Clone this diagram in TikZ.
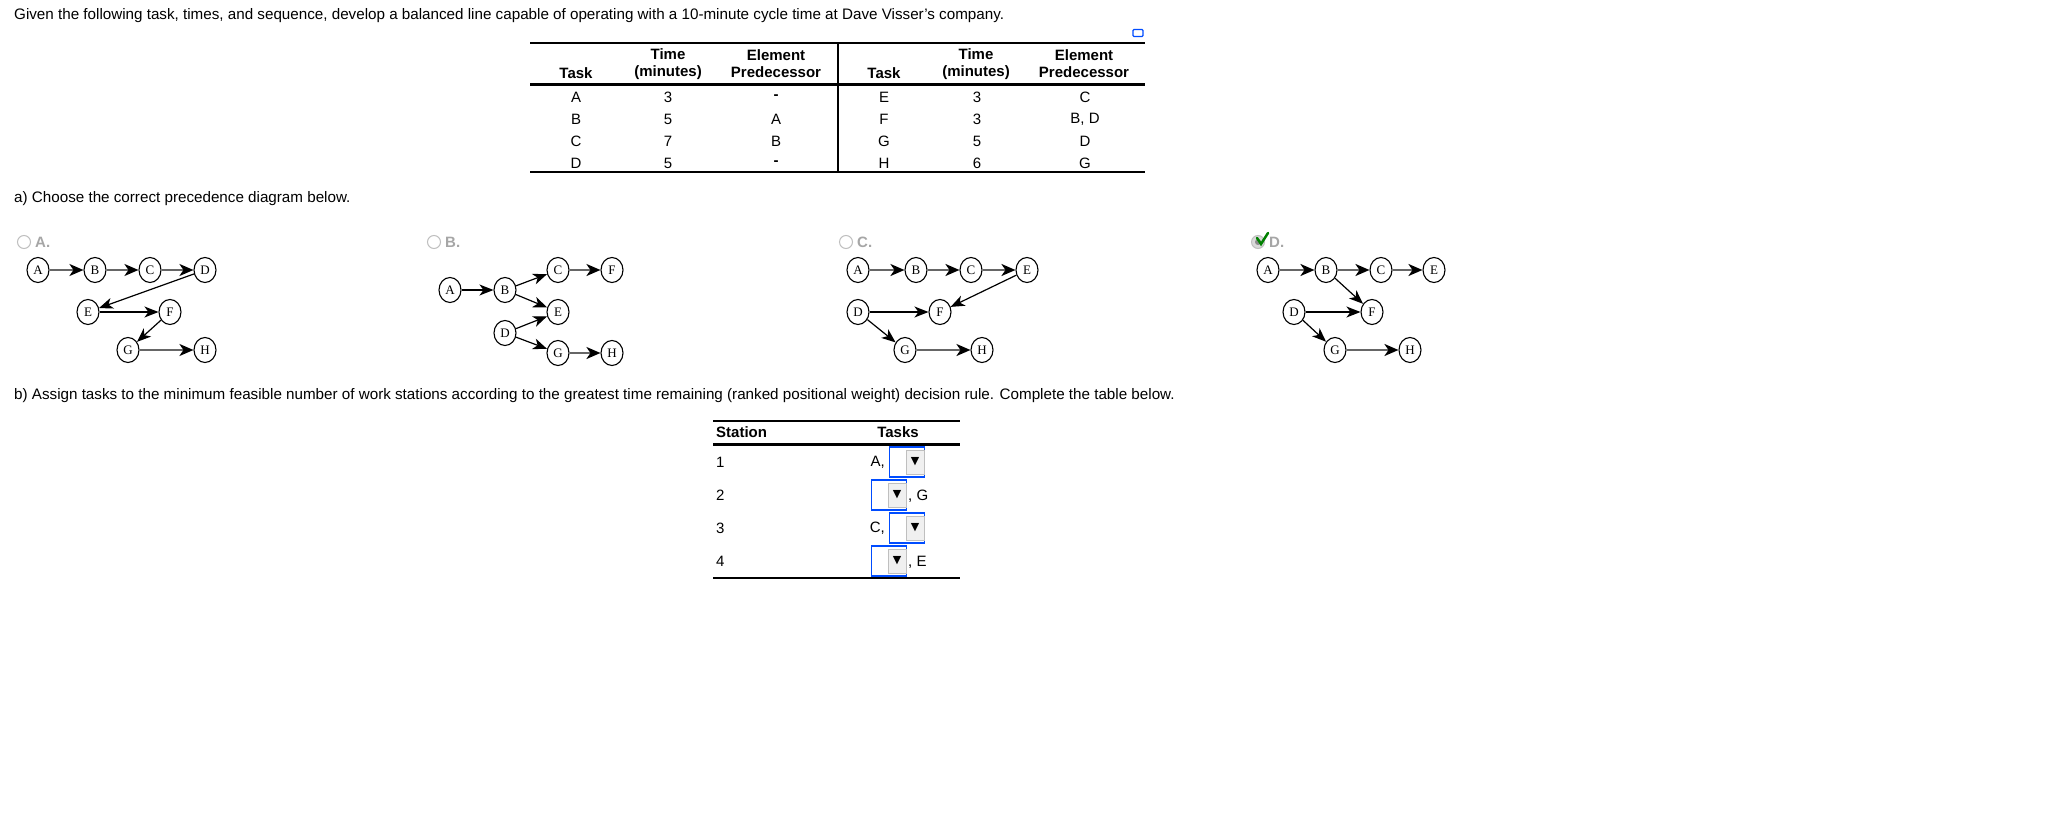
\documentclass[tikz,border=0pt]{standalone}
\usepackage{fontspec}
\setmainfont{Liberation Sans}
\newfontfamily\nodefont{Liberation Serif}
\newfontfamily\symfont{DejaVu Sans}
\usetikzlibrary{arrows.meta,shapes.geometric}
\begin{document}
\begin{tikzpicture}[x=1pt,y=-1pt,
  txt/.style={anchor=west,inner sep=0pt,font=\fontsize{15.2}{18}\selectfont},
  cell/.style={inner sep=0pt,font=\fontsize{15}{17}\selectfont},
  hcell/.style={inner sep=0pt,font=\bfseries\fontsize{15}{17}\selectfont,align=center},
  pn/.style={draw,ellipse,minimum width=22pt,minimum height=25pt,inner sep=0pt,line width=1.1pt,font=\nodefont\fontsize{13}{13}\selectfont},
  ar/.style={draw=black!60,line width=2pt,-{Stealth[length=14pt,width=12pt,inset=4pt,black]}},
  arthin/.style={draw=black,line width=1.2pt,-{Stealth[length=14pt,width=11pt,inset=4pt]}},
  opt/.style={draw=black!25,circle,minimum size=13pt,inner sep=0pt,line width=1pt},
  optl/.style={anchor=west,inner sep=0pt,text=black!35,font=\bfseries\fontsize{15}{17}\selectfont},
  dd/.style={draw=blue!70!cyan,line width=1.2pt,minimum width=35pt,minimum height=30pt,inner sep=0pt},
  ddb/.style={draw=black!25,fill=black!6,minimum width=18pt,minimum height=24pt,inner sep=0pt}
]
\useasboundingbox (0,0) rectangle (2046,840);
\fill[white] (0,0) rectangle (2046,840);
\node[txt] (title) at (14,16) {Given the following task, times, and sequence, develop a balanced line capable of operating with a 10-minute cycle time at Dave Visser's company.};
% icon
\node[draw=blue!70!cyan,line width=1.2pt,minimum width=10pt,minimum height=7pt,inner sep=0pt,rounded corners=1pt] (icon) at (1138,33) {};
% top table
\draw[line width=1.5pt] (530,43) -- (1145,43);
\draw[line width=3pt] (530,85) -- (1145,85);
\draw[line width=1.5pt] (530,172) -- (1145,172);
\draw[line width=1.2pt] (838,43) -- (838,172);
\foreach \o in {0,308}{
  \node[hcell] at (576+\o,73) {Task};
  \node[hcell] at (668+\o,64) {Time\\(minutes)};
  \node[hcell] at (776+\o,64) {Element\\Predecessor};
}
\foreach \t/\m/\p [count=\i] in {A/3/\textbf{-},B/5/A,C/7/B,D/5/\textbf{-}}{
  \node[cell] at (576,75+22*\i) {\t};
  \node[cell] at (668,75+22*\i) {\m};
  \node[cell] at (776,75+22*\i) {\p};
}
\foreach \t/\m/\p [count=\i] in {E/3/C,F/3/{B, D},G/5/D,H/6/G}{
  \node[cell] at (884,75+22*\i) {\t};
  \node[cell] at (977,75+22*\i) {\m};
  \node[cell] at (1085,75+22*\i) {\p};
}
\node[txt] (qa) at (14,199) {a) Choose the correct precedence diagram below.};
% options
\node[opt] (oa) at (24,242) {}; \node[optl] at (35,242) {A.};
\node[opt] (ob) at (434,242) {}; \node[optl] at (445,242) {B.};
\node[opt] (oc) at (846,242) {}; \node[optl] at (857,242) {C.};
\node[opt,fill=black!15] (od) at (1258,242) {}; \node[optl] at (1269,242) {D.};
\node[circle,fill=black!45,minimum size=6pt,inner sep=0pt] at (1258,242) {};
\draw[green!50!black,line width=2.5pt,line cap=round] (1257,238) -- (1261,244) -- (1268,233);
% Diagram A
\node[pn] (aA) at (38,270) {A}; \node[pn] (aB) at (95,270) {B};
\node[pn] (aC) at (150,270) {C}; \node[pn] (aD) at (205,270) {D};
\node[pn] (aE) at (88,312) {E}; \node[pn] (aF) at (170,312) {F};
\node[pn] (aG) at (128,350) {G}; \node[pn] (aH) at (205,350) {H};
\draw[ar] (aA)--(aB); \draw[ar] (aB)--(aC); \draw[ar] (aC)--(aD);
\draw[arthin] (aD)--(aE); \draw[arthin] (aE)--(aF); \draw[arthin] (aF)--(aG); \draw[ar] (aG)--(aH);
% Diagram B
\node[pn] (bA) at (450,290) {A}; \node[pn] (bB) at (505,290) {B};
\node[pn] (bC) at (558,270) {C}; \node[pn] (bF) at (612,270) {F};
\node[pn] (bE) at (558,312) {E}; \node[pn] (bD) at (505,333) {D};
\node[pn] (bG) at (558,353) {G}; \node[pn] (bH) at (612,353) {H};
\draw[arthin] (bA)--(bB); \draw[arthin] (bB)--(bC); \draw[ar] (bC)--(bF);
\draw[arthin] (bB)--(bE); \draw[arthin] (bD)--(bE); \draw[arthin] (bD)--(bG); \draw[ar] (bG)--(bH);
% Diagram C
\node[pn] (cA) at (858,270) {A}; \node[pn] (cB) at (916,270) {B};
\node[pn] (cC) at (971,270) {C}; \node[pn] (cE) at (1027,270) {E};
\node[pn] (cD) at (858,312) {D}; \node[pn] (cF) at (940,312) {F};
\node[pn] (cG) at (905,350) {G}; \node[pn] (cH) at (982,350) {H};
\draw[ar] (cA)--(cB); \draw[ar] (cB)--(cC); \draw[ar] (cC)--(cE);
\draw[arthin] (cE)--(cF); \draw[arthin] (cD)--(cF); \draw[arthin] (cD)--(cG); \draw[ar] (cG)--(cH);
% Diagram D
\node[pn] (dA) at (1268,270) {A}; \node[pn] (dB) at (1326,270) {B};
\node[pn] (dC) at (1381,270) {C}; \node[pn] (dE) at (1434,270) {E};
\node[pn] (dD) at (1294,312) {D}; \node[pn] (dF) at (1372,312) {F};
\node[pn] (dG) at (1335,350) {G}; \node[pn] (dH) at (1410,350) {H};
\draw[ar] (dA)--(dB); \draw[ar] (dB)--(dC); \draw[ar] (dC)--(dE);
\draw[arthin] (dB)--(dF); \draw[arthin] (dD)--(dF); \draw[arthin] (dD)--(dG); \draw[ar] (dG)--(dH);
\node[txt] (qb) at (14,396) {b) Assign tasks to the minimum feasible number of work stations according to the greatest time remaining (ranked positional weight) decision rule. Complete the table below.};
% bottom table
\draw[line width=1.5pt] (713,421) -- (960,421);
\draw[line width=3pt] (713,444) -- (960,444);
\draw[line width=1.5pt] (713,578) -- (960,578);
\node[hcell,anchor=west] at (716,432) {Station};
\node[hcell] at (898,432) {Tasks};
\foreach \n/\y in {1/462,2/495,3/528,4/561}{ \node[cell,anchor=west] at (716,\y) {\n}; }
% dropdowns
\node[dd] (d1) at (907,462) {}; \node[ddb] at (915,462) {\symfont\fontsize{11}{11}\selectfont ▼};
\node[cell,anchor=east] at (885,462) {A,};
\node[dd] (d2) at (889,495) {}; \node[ddb] at (897,495) {\symfont\fontsize{11}{11}\selectfont ▼};
\node[cell,anchor=west] at (908,496) {, G};
\node[dd] (d3) at (907,528) {}; \node[ddb] at (915,528) {\symfont\fontsize{11}{11}\selectfont ▼};
\node[cell,anchor=east] at (885,528) {C,};
\node[dd] (d4) at (889,561) {}; \node[ddb] at (897,561) {\symfont\fontsize{11}{11}\selectfont ▼};
\node[cell,anchor=west] at (908,562) {, E};
\end{tikzpicture}
\end{document}
